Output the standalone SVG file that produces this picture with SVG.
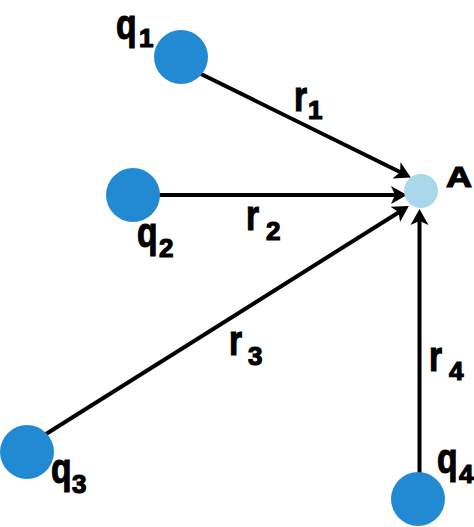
<svg xmlns="http://www.w3.org/2000/svg" width="474" height="527" viewBox="0 0 474 527">
<style>
.charge{fill:#2289D3}
.point{fill:#A9D8EB}
.lbl{font-family:"Liberation Sans",Arial,sans-serif;font-weight:bold;fill:#000;stroke:#000;stroke-width:1.2px}
.big{font-size:42px}
.sub{font-size:26px}
.conn{stroke:#000;stroke-width:4;fill:none}
</style>
<defs>
<marker id="ah" markerUnits="userSpaceOnUse" markerWidth="26" markerHeight="26" viewBox="-13 -13 26 26" refX="0" refY="0" orient="auto">
<path d="M7,0 L-9,-9 L-5,0 L-9,9 Z" fill="#000"/>
</marker>
</defs>
<rect width="474" height="527" fill="#fff"/>
<g id="connectors">
<line id="r1" class="conn" x1="201" y1="74" x2="404.6" y2="174.3" marker-end="url(#ah)"/>
<line id="r2" class="conn" x1="158" y1="195" x2="400" y2="195" marker-end="url(#ah)"/>
<line id="r3" class="conn" x1="46" y1="434" x2="402.9" y2="209.7" marker-end="url(#ah)"/>
<line id="r4" class="conn" x1="419.5" y1="474" x2="419.5" y2="216" marker-end="url(#ah)"/>
</g>
<g id="connector-labels">
<text class="lbl big" transform="translate(294,111) scale(0.8,1)">r</text>
<text class="lbl sub" x="308" y="119">1</text>
<text class="lbl big" transform="translate(246,230) scale(0.8,1)">r</text>
<text class="lbl sub" x="266" y="240">2</text>
<text class="lbl big" transform="translate(229,355) scale(0.8,1)">r</text>
<text class="lbl sub" x="248" y="365">3</text>
<text class="lbl big" transform="translate(429,371) scale(0.8,1)">r</text>
<text class="lbl sub" x="449" y="380">4</text>
</g>
<g id="q1">
<circle class="charge" cx="181" cy="57" r="27"/>
<text class="lbl big" transform="translate(116,39) scale(0.8,1)">q</text>
<text class="lbl sub" x="139" y="47">1</text>
</g>
<g id="q2">
<circle class="charge" cx="133" cy="195" r="27"/>
<text class="lbl big" transform="translate(137,247) scale(0.8,1)">q</text>
<text class="lbl sub" x="159" y="257">2</text>
</g>
<g id="q3">
<circle class="charge" cx="27" cy="452" r="27"/>
<text class="lbl big" transform="translate(51,483) scale(0.8,1)">q</text>
<text class="lbl sub" x="72" y="493">3</text>
</g>
<g id="q4">
<circle class="charge" cx="418" cy="499" r="27"/>
<text class="lbl big" transform="translate(437,473) scale(0.8,1)">q</text>
<text class="lbl sub" x="459" y="483">4</text>
</g>
<g id="A">
<circle class="point" cx="421" cy="191" r="17"/>
<text class="lbl" x="446" y="187" style="font-size:30px" textLength="26" lengthAdjust="spacingAndGlyphs">A</text>
</g>
</svg>
